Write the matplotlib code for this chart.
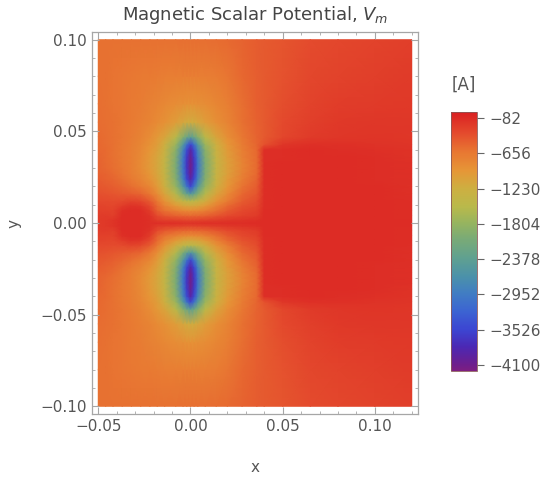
import numpy as np
import matplotlib
matplotlib.use('Agg')
import matplotlib.pyplot as plt
from matplotlib.colors import LinearSegmentedColormap, Normalize

x_pts = [-0.05, -0.046, -0.042, -0.037, -0.032, -0.027, -0.022, -0.018, -0.014, -0.008, -0.004,
         -0.002, 0.0, 0.002, 0.004, 0.008, 0.014, 0.02, 0.028, 0.036, 0.04, 0.05, 0.065, 0.08,
         0.10, 0.12]
y_pts = [0.0, 0.0015, 0.004, 0.007, 0.0095, 0.012, 0.016, 0.02, 0.024, 0.027, 0.03, 0.033,
         0.036, 0.04, 0.043, 0.047, 0.055, 0.065, 0.08, 0.10]

# Vm [A], one row per y_pts entry
vm_upper = [
    [-200, -190, -150, -95, -92, -95, -120, -115, -120, -130, -135, -135, -135, -135, -135, -130, -120, -110, -105, -100, -95, -90, -85, -85, -90, -100],
    [-205, -195, -160, -95, -92, -95, -125, -200, -220, -245, -260, -265, -270, -265, -260, -245, -215, -175, -140, -120, -95, -90, -85, -85, -90, -100],
    [-220, -210, -240, -95, -92, -95, -140, -330, -420, -490, -515, -525, -530, -525, -515, -490, -410, -330, -260, -200, -100, -90, -85, -85, -90, -105],
    [-250, -250, -270, -120, -95, -100, -230, -480, -620, -740, -820, -840, -850, -840, -820, -740, -600, -450, -320, -250, -100, -90, -85, -85, -92, -108],
    [-280, -290, -310, -220, -140, -170, -330, -560, -750, -960, -1090, -1130, -1150, -1130, -1090, -960, -740, -560, -390, -300, -102, -91, -85, -87, -94, -112],
    [-320, -330, -340, -330, -280, -300, -430, -650, -900, -1200, -1380, -1450, -1500, -1450, -1380, -1200, -890, -680, -450, -340, -105, -92, -85, -88, -95, -115],
    [-370, -390, -410, -440, -470, -520, -650, -850, -1100, -1550, -2000, -2300, -2500, -2300, -2000, -1550, -1090, -840, -530, -400, -110, -95, -88, -90, -98, -120],
    [-420, -440, -470, -520, -580, -660, -790, -980, -1250, -1800, -2500, -3000, -3500, -3000, -2500, -1800, -1240, -940, -620, -460, -110, -95, -90, -92, -100, -122],
    [-450, -480, -520, -580, -660, -760, -890, -1060, -1330, -1950, -2850, -3500, -3900, -3500, -2850, -1950, -1320, -990, -700, -510, -112, -97, -92, -95, -102, -125],
    [-480, -510, -550, -620, -700, -800, -950, -1110, -1360, -2000, -2950, -3600, -4050, -3600, -2950, -2000, -1350, -1040, -740, -540, -112, -98, -93, -96, -104, -127],
    [-500, -540, -580, -640, -720, -830, -980, -1130, -1370, -2020, -3000, -3650, -4100, -3650, -3000, -2020, -1360, -1050, -760, -560, -112, -99, -94, -97, -106, -128],
    [-510, -550, -590, -650, -725, -830, -980, -1130, -1370, -2020, -3000, -3650, -4100, -3650, -3000, -2020, -1360, -1050, -760, -560, -112, -100, -95, -98, -108, -130],
    [-520, -555, -595, -650, -720, -820, -960, -1110, -1350, -1980, -2950, -3600, -4050, -3600, -2950, -1980, -1340, -1030, -740, -550, -113, -101, -96, -100, -112, -135],
    [-530, -560, -600, -650, -710, -800, -930, -1070, -1300, -1900, -2800, -3450, -3900, -3450, -2800, -1900, -1290, -990, -720, -540, -115, -103, -98, -104, -125, -148],
    [-540, -565, -600, -645, -700, -780, -890, -1020, -1230, -1750, -2500, -3050, -3500, -3050, -2500, -1750, -1220, -940, -690, -520, -380, -180, -130, -130, -145, -162],
    [-550, -570, -600, -640, -690, -755, -850, -960, -1100, -1500, -1950, -2200, -2400, -2200, -1950, -1500, -1090, -870, -650, -500, -430, -300, -200, -170, -160, -170],
    [-570, -590, -610, -635, -670, -710, -770, -830, -880, -1020, -1130, -1180, -1200, -1180, -1130, -1020, -870, -770, -600, -480, -430, -330, -235, -195, -180, -180],
    [-590, -600, -615, -635, -660, -690, -730, -770, -800, -850, -870, -875, -880, -875, -870, -850, -790, -710, -580, -470, -430, -350, -270, -225, -200, -190],
    [-600, -610, -620, -630, -645, -660, -675, -690, -700, -705, -705, -705, -705, -705, -705, -700, -680, -630, -540, -470, -440, -380, -310, -265, -235, -215],
    [-610, -610, -610, -610, -610, -610, -608, -605, -600, -595, -590, -590, -590, -588, -585, -578, -565, -545, -500, -460, -440, -400, -340, -300, -270, -245],
]

legend_ticks = [-4100, -3526, -2952, -2378, -1804, -1230, -656, -82]

# colours sampled from the legend bar (position on bar, rgb)
bar_colors = [
    (0.0, (125, 30, 130)), (0.023, (110, 30, 140)), (0.094, (75, 40, 180)),
    (0.161, (60, 70, 210)), (0.229, (60, 100, 210)), (0.300, (65, 125, 195)),
    (0.364, (75, 145, 170)), (0.435, (95, 160, 145)), (0.506, (120, 170, 120)),
    (0.570, (150, 180, 95)), (0.634, (185, 185, 75)), (0.705, (205, 175, 65)),
    (0.776, (230, 150, 55)), (0.844, (232, 120, 50)), (0.918, (228, 75, 45)),
    (1.0, (218, 32, 34)),
]
cmap = LinearSegmentedColormap.from_list(
    'mma_rainbow', [(p, tuple(c / 255 for c in rgb)) for p, rgb in bar_colors])
norm = Normalize(vmin=-4197, vmax=15)

# mirror the upper half to get the full field (the picture is symmetric in y)
y_full = np.concatenate([-np.array(y_pts[:0:-1]), np.array(y_pts)])
z_upper = np.array(vm_upper, dtype=float)
z_full = np.vstack([z_upper[:0:-1], z_upper])
X, Y = np.meshgrid(x_pts, y_full)

plt.rcParams['font.family'] = 'DejaVu Sans'
grey_txt = '#555555'
frame_col = '#a6a6a6'

fig = plt.figure(figsize=(5.6, 4.8), dpi=100)
ax = fig.add_axes([92 / 560, 66 / 480, 326 / 560, 382 / 480])
ax.pcolormesh(X, Y, z_full, cmap=cmap, norm=norm, shading='gouraud', rasterized=True)

ax.set_xlim(-0.0534, 0.1234)
ax.set_ylim(-0.1042, 0.1042)
ax.set_xticks([-0.05, 0.0, 0.05, 0.10])
ax.set_xticklabels(['\u22120.05', '0.00', '0.05', '0.10'])
ax.set_yticks([-0.10, -0.05, 0.0, 0.05, 0.10])
ax.set_yticklabels(['\u22120.10', '\u22120.05', '0.00', '0.05', '0.10'])
ax.set_xticks(np.arange(-0.05, 0.1201, 0.01), minor=True)
ax.set_yticks(np.arange(-0.10, 0.1001, 0.01), minor=True)
ax.tick_params(which='both', direction='in', top=True, right=True, color=frame_col,
               labelcolor=grey_txt, labelsize=11)
ax.tick_params(which='major', length=5, width=0.8)
ax.tick_params(which='minor', length=2.5, width=0.6)
for s in ax.spines.values():
    s.set_color(frame_col)
    s.set_linewidth(0.9)

ax.set_xlabel('x', fontsize=11, color=grey_txt, labelpad=19)
ax.set_ylabel('y', fontsize=11, color=grey_txt, labelpad=14)
ax.set_title('Magnetic Scalar Potential, $V_m$', fontsize=13, color='#444444', pad=9)

# legend bar
cax = fig.add_axes([451 / 560, 109 / 480, 26 / 560, 259 / 480])
sm = plt.cm.ScalarMappable(norm=norm, cmap=cmap)
cb = fig.colorbar(sm, cax=cax, ticks=legend_ticks)
cb.ax.set_yticklabels([f'\u2212{abs(v)}' for v in legend_ticks])
cb.ax.tick_params(length=5, width=0.8, color='#666666', labelcolor=grey_txt, labelsize=11, pad=4)
cb.outline.set_edgecolor('#8a5a5a')
cb.outline.set_linewidth(0.6)
cb.ax.set_title('[A]', fontsize=12, color=grey_txt, pad=16)

fig.savefig('out.png', dpi=100)
